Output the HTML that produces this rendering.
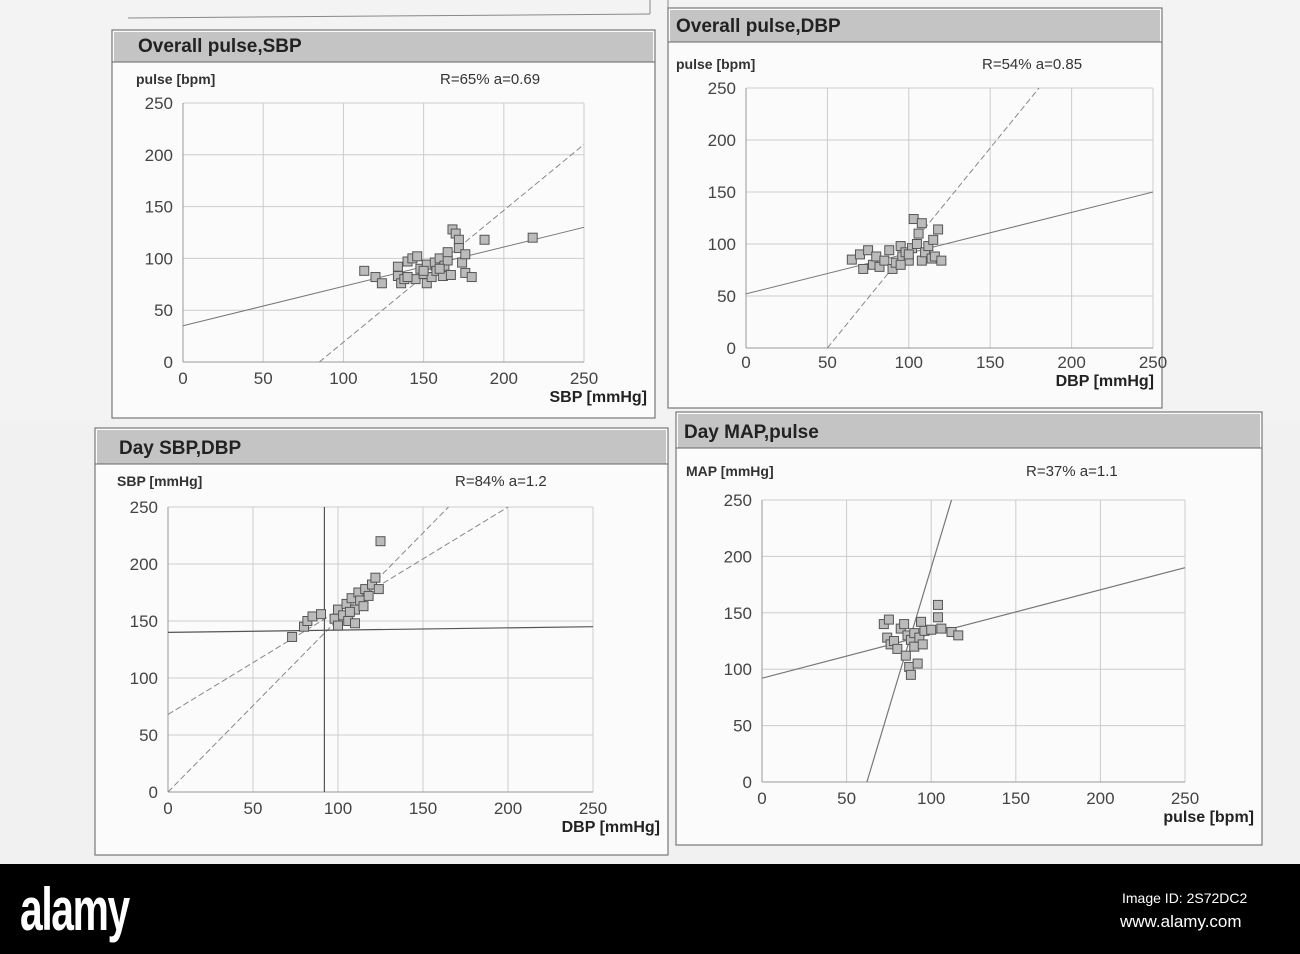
<!DOCTYPE html>
<html><head><meta charset="utf-8"><style>
html,body{margin:0;padding:0;width:1300px;height:954px;overflow:hidden;background:#f2f2f2}
svg{display:block}
text{font-family:"Liberation Sans",sans-serif}
</style></head><body>
<svg id="s" width="1300" height="954" xmlns="http://www.w3.org/2000/svg">
<rect width="1300" height="954" fill="#f1f1f1"/>
<rect x="0" y="0" width="1300" height="420" fill="#f3f3f3"/>
<line x1="128" y1="18" x2="650" y2="14" stroke="#888" stroke-width="1"/>
<line x1="650" y1="0" x2="650" y2="14" stroke="#888"/>
<line x1="668" y1="0" x2="668" y2="8" stroke="#888"/>
<rect x="0" y="864" width="1300" height="90" fill="#000"/>
<text x="20" y="930" fill="#fff" font-size="60" font-weight="bold" transform="translate(20,0) scale(0.68,1) translate(-20,0)" style="font-family:'Liberation Sans Narrow','Liberation Sans',sans-serif;letter-spacing:-2px">alamy</text>
<text x="1122" y="903" fill="#fff" font-size="14" style="font-family:'Liberation Sans Narrow','Liberation Sans',sans-serif">Image ID: 2S72DC2</text>
<text x="1120" y="927" fill="#fff" font-size="17" style="font-family:'Liberation Sans Narrow','Liberation Sans',sans-serif">www.alamy.com</text>
</svg>
<script>
var NS="http://www.w3.org/2000/svg",S=document.getElementById('s');
function el(t,a,txt){var e=document.createElementNS(NS,t);for(var k in a)e.setAttribute(k,a[k]);if(txt!==undefined)e.textContent=txt;S.appendChild(e);return e;}
function panel(p){
 el('rect',{x:p.bx,y:p.by,width:p.bw,height:p.bh,fill:'#fbfbfb',stroke:'#777','stroke-width':1.2});
 el('rect',{x:p.bx+2,y:p.by+2,width:p.bw-4,height:p.hh,fill:'#c4c4c4'});
 el('line',{x1:p.bx,y1:p.by+p.hh+2,x2:p.bx+p.bw,y2:p.by+p.hh+2,stroke:'#666'});
 el('text',{x:p.bx+p.tx,y:p.by+p.hh-8,'font-size':19,'font-weight':'bold',fill:'#222'},p.title);
 el('text',{x:p.ylx,y:p.yly,'font-size':p.big?16:14,'font-weight':'bold',fill:'#333'},p.yl);
 el('text',{x:p.rx,y:p.yly,'font-size':p.big?16:15,fill:'#333'},p.r);
 function X(v){return p.x0+(p.x1-p.x0)*v/250;} function Y(v){return p.y0+(p.y1-p.y0)*v/250;}
 for(var i=0;i<=5;i++){var v=i*50;
  el('line',{x1:X(v),y1:Y(0),x2:X(v),y2:Y(250),stroke:'#ccc','stroke-width':1});
  el('line',{x1:X(0),y1:Y(v),x2:X(250),y2:Y(v),stroke:'#ccc','stroke-width':1});
  el('text',{x:X(0)-10,y:Y(v)+6,'font-size':17,'text-anchor':'end',fill:'#444'},v);
  el('text',{x:X(v),y:Y(0)+p.xo,'font-size':17,'text-anchor':'middle',fill:'#444'},v);
 }
 el('line',{x1:X(0),y1:Y(0),x2:X(0),y2:Y(250),stroke:'#999'});
 el('line',{x1:X(0),y1:Y(0),x2:X(250),y2:Y(0),stroke:'#999'});
 el('text',{x:p.bx+p.bw-8,y:Y(0)+p.xo+18,'font-size':16,'font-weight':'bold','text-anchor':'end',fill:'#222'},p.xl);
 p.lines.forEach(function(l){el('line',{x1:X(l[0]),y1:Y(l[1]),x2:X(l[2]),y2:Y(l[3]),stroke:l[4]||'#777','stroke-width':l[5]||1,'stroke-dasharray':l[6]||''});});
 p.pts.forEach(function(q){el('rect',{x:X(q[0])-4.5,y:Y(q[1])-4.5,width:9,height:9,fill:'#bbb',stroke:'#555','stroke-width':1});});
}
panel({bx:112,by:30,bw:543,bh:388,hh:30,tx:26,title:'Overall  pulse,SBP',yl:'pulse [bpm]',ylx:136,yly:84,r:'R=65%   a=0.69',rx:440,
 x0:183,x1:584,y0:362,y1:103,xo:22,xl:'SBP [mmHg]',
 lines:[[0,35,250,130],[85,0,250,210,'#888',1,'6,3']],
 pts:[[113,88],[120,82],[124,76],[134,92],[134,83],[136,76],[138,80],[140,97],[143,100],[145,80],[146,102],[148,90],[150,85],[152,94],[152,76],[155,82],[157,96],[158,88],[160,100],[162,83],[163,93],[165,98],[167,84],[165,106],[168,128],[170,124],[172,118],[172,110],[174,96],[176,104],[176,86],[180,82],[188,118],[218,120],[150,88],[140,82],[160,90]]});
panel({bx:668,by:8,bw:494,bh:400,hh:32,tx:8,title:'Overall  pulse,DBP',yl:'pulse [bpm]',ylx:676,yly:69,r:'R=54%   a=0.85',rx:982,
 x0:746,x1:1153,y0:348,y1:88,xo:20,xl:'DBP [mmHg]',
 lines:[[0,52,250,150],[50,0,180,250,'#888',1,'6,3']],
 pts:[[65,85],[70,90],[72,76],[75,94],[78,80],[80,88],[82,78],[85,84],[88,94],[90,76],[92,82],[95,98],[96,88],[98,92],[100,84],[102,96],[103,124],[105,100],[106,110],[108,120],[108,84],[110,92],[112,98],[114,86],[115,104],[116,88],[118,114],[120,84],[100,90],[95,80]]});
panel({bx:95,by:428,bw:573,bh:427,hh:34,tx:24,title:'Day  SBP,DBP',yl:'SBP [mmHg]',ylx:117,yly:486,r:'R=84%   a=1.2',rx:455,
 x0:168,x1:593,y0:792,y1:507,xo:22,xl:'DBP [mmHg]',
 lines:[[0,68,200,250,'#888',1,'6,3'],[0,0,165,250,'#888',1,'6,3'],[0,140,250,145,'#555',1.2],[92,0,92,250,'#555',1.2]],
 pts:[[73,136],[80,145],[82,150],[85,154],[90,156],[98,152],[100,160],[103,155],[105,165],[106,150],[108,170],[110,160],[110,148],[112,175],[113,168],[115,163],[116,178],[118,172],[120,182],[122,188],[124,178],[125,220],[107,158],[100,146]]});
panel({bx:676,by:412,bw:586,bh:433,hh:34,tx:8,title:'Day  MAP,pulse',yl:'MAP [mmHg]',ylx:686,yly:476,r:'R=37%  a=1.1',rx:1026,
 x0:762,x1:1185,y0:782,y1:500,xo:22,xl:'pulse [bpm]',
 lines:[[0,92,250,190,'#777',1.2],[62,0,112,250,'#777',1.2]],
 pts:[[72,140],[75,144],[74,128],[76,122],[78,125],[80,118],[82,136],[84,140],[85,112],[86,130],[87,102],[88,95],[88,126],[90,120],[90,132],[92,105],[93,128],[94,142],[95,122],[96,134],[100,135],[104,157],[104,146],[106,136],[112,133],[116,130]]});
</script>
</body></html>
